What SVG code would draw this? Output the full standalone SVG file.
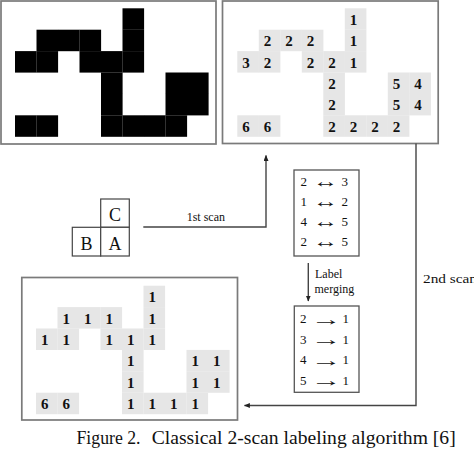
<svg xmlns="http://www.w3.org/2000/svg" xmlns:xlink="http://www.w3.org/1999/xlink" width="474" height="449" viewBox="0 0 474 449">
<style>
.panel{fill:#fff;stroke:#7a7a7a;stroke-width:1.7}
.blk{fill:#000}
.gry{fill:#e6e6e6}
.num{font-family:"Liberation Serif","Times New Roman",serif;font-weight:bold;font-size:15px;fill:#111;text-anchor:middle}
.cell{fill:#fff;stroke:#444;stroke-width:1.2}
.let{font-family:"Liberation Serif","Times New Roman",serif;font-size:18px;fill:#111;text-anchor:middle}
.lbl{font-family:"Liberation Serif","Times New Roman",serif;font-size:12px;fill:#111}
.tbl{fill:#fff;stroke:#555;stroke-width:1.3}
.tt{font-family:"Liberation Serif","Times New Roman",serif;font-size:13px;fill:#111}
.ar{font-family:"Liberation Serif","DejaVu Serif",serif;font-size:17.5px;fill:#111;text-anchor:middle}
.cap{font-family:"Liberation Serif","Times New Roman",serif;font-size:19px;fill:#111}
.con{fill:none;stroke:#444;stroke-width:1.4}
</style>
<defs>
<rect id="c" width="21.6" height="21.5"/>
<marker id="ah" viewBox="0 0 10 10" refX="9" refY="5" markerUnits="userSpaceOnUse" markerWidth="6" markerHeight="5" orient="auto" preserveAspectRatio="none">
<path d="M0,0 L10,5 L0,10 z" fill="#222"/>
</marker>
</defs>

<g id="binary-image">
<rect class="panel" x="1" y="1" width="215" height="143"/>
<g class="blk">
<use xlink:href="#c" x="122.5" y="8.3"/>
<use xlink:href="#c" x="36.5" y="29.7"/><use xlink:href="#c" x="58" y="29.7"/><use xlink:href="#c" x="79.5" y="29.7"/><use xlink:href="#c" x="122.5" y="29.7"/>
<use xlink:href="#c" x="15" y="51.1"/><use xlink:href="#c" x="36.5" y="51.1"/><use xlink:href="#c" x="79.5" y="51.1"/><use xlink:href="#c" x="101" y="51.1"/><use xlink:href="#c" x="122.5" y="51.1"/>
<use xlink:href="#c" x="101" y="72.5"/><use xlink:href="#c" x="165.5" y="72.5"/><use xlink:href="#c" x="187" y="72.5"/>
<use xlink:href="#c" x="101" y="93.9"/><use xlink:href="#c" x="165.5" y="93.9"/><use xlink:href="#c" x="187" y="93.9"/>
<use xlink:href="#c" x="15" y="115.3"/><use xlink:href="#c" x="36.5" y="115.3"/><use xlink:href="#c" x="101" y="115.3"/><use xlink:href="#c" x="122.5" y="115.3"/><use xlink:href="#c" x="144" y="115.3"/><use xlink:href="#c" x="165.5" y="115.3"/>
</g>
</g>

<g id="first-scan-result">
<rect class="panel" x="222.5" y="1" width="215.7" height="142.5"/>
<g class="gry">
<use xlink:href="#c" x="344.8" y="8.3"/>
<use xlink:href="#c" x="258.8" y="29.7"/><use xlink:href="#c" x="280.3" y="29.7"/><use xlink:href="#c" x="301.8" y="29.7"/><use xlink:href="#c" x="344.8" y="29.7"/>
<use xlink:href="#c" x="237.3" y="51.1"/><use xlink:href="#c" x="258.8" y="51.1"/><use xlink:href="#c" x="301.8" y="51.1"/><use xlink:href="#c" x="323.3" y="51.1"/><use xlink:href="#c" x="344.8" y="51.1"/>
<use xlink:href="#c" x="323.3" y="72.5"/><use xlink:href="#c" x="387.8" y="72.5"/><use xlink:href="#c" x="409.3" y="72.5"/>
<use xlink:href="#c" x="323.3" y="93.9"/><use xlink:href="#c" x="387.8" y="93.9"/><use xlink:href="#c" x="409.3" y="93.9"/>
<use xlink:href="#c" x="237.3" y="115.3"/><use xlink:href="#c" x="258.8" y="115.3"/><use xlink:href="#c" x="323.3" y="115.3"/><use xlink:href="#c" x="344.8" y="115.3"/><use xlink:href="#c" x="366.3" y="115.3"/><use xlink:href="#c" x="387.8" y="115.3"/>
</g>
<g class="num">
<text x="353.6" y="24.8">1</text>
<text x="267.6" y="46.2">2</text><text x="289.1" y="46.2">2</text><text x="310.6" y="46.2">2</text><text x="353.6" y="46.2">1</text>
<text x="246.1" y="67.6">3</text><text x="267.6" y="67.6">2</text><text x="310.6" y="67.6">2</text><text x="332.1" y="67.6">2</text><text x="353.6" y="67.6">1</text>
<text x="332.1" y="89">2</text><text x="396.6" y="89">5</text><text x="418.1" y="89">4</text>
<text x="332.1" y="110.4">2</text><text x="396.6" y="110.4">5</text><text x="418.1" y="110.4">4</text>
<text x="246.1" y="131.8">6</text><text x="267.6" y="131.8">6</text><text x="332.1" y="131.8">2</text><text x="353.6" y="131.8">2</text><text x="375.1" y="131.8">2</text><text x="396.6" y="131.8">2</text>
</g>
</g>

<g id="final-result">
<rect class="panel" x="21.8" y="277.5" width="215.7" height="142.5"/>
<g class="gry">
<use xlink:href="#c" x="143.5" y="285.7"/>
<use xlink:href="#c" x="57.5" y="307.1"/><use xlink:href="#c" x="79" y="307.1"/><use xlink:href="#c" x="100.5" y="307.1"/><use xlink:href="#c" x="143.5" y="307.1"/>
<use xlink:href="#c" x="36" y="328.5"/><use xlink:href="#c" x="57.5" y="328.5"/><use xlink:href="#c" x="100.5" y="328.5"/><use xlink:href="#c" x="122" y="328.5"/><use xlink:href="#c" x="143.5" y="328.5"/>
<use xlink:href="#c" x="122" y="349.9"/><use xlink:href="#c" x="186.5" y="349.9"/><use xlink:href="#c" x="208" y="349.9"/>
<use xlink:href="#c" x="122" y="371.3"/><use xlink:href="#c" x="186.5" y="371.3"/><use xlink:href="#c" x="208" y="371.3"/>
<use xlink:href="#c" x="36" y="392.7"/><use xlink:href="#c" x="57.5" y="392.7"/><use xlink:href="#c" x="122" y="392.7"/><use xlink:href="#c" x="143.5" y="392.7"/><use xlink:href="#c" x="165" y="392.7"/><use xlink:href="#c" x="186.5" y="392.7"/>
</g>
<g class="num">
<text x="152.3" y="302.2">1</text>
<text x="66.3" y="323.6">1</text><text x="87.8" y="323.6">1</text><text x="109.3" y="323.6">1</text><text x="152.3" y="323.6">1</text>
<text x="44.8" y="345">1</text><text x="66.3" y="345">1</text><text x="109.3" y="345">1</text><text x="130.8" y="345">1</text><text x="152.3" y="345">1</text>
<text x="130.8" y="366.4">1</text><text x="195.3" y="366.4">1</text><text x="216.8" y="366.4">1</text>
<text x="130.8" y="387.8">1</text><text x="195.3" y="387.8">1</text><text x="216.8" y="387.8">1</text>
<text x="44.8" y="409.2">6</text><text x="66.3" y="409.2">6</text><text x="130.8" y="409.2">1</text><text x="152.3" y="409.2">1</text><text x="173.8" y="409.2">1</text><text x="195.3" y="409.2">1</text>
</g>
</g>

<g id="scan-mask">
<rect class="cell" x="100.7" y="199" width="28.6" height="28.3"/>
<rect class="cell" x="72.3" y="227.3" width="28.4" height="28.7"/>
<rect class="cell" x="100.7" y="227.3" width="28.6" height="28.7"/>
<text class="let" x="115" y="221">C</text>
<text class="let" x="86.5" y="250">B</text>
<text class="let" x="115" y="250">A</text>
</g>

<g id="equivalence-table">
<rect class="tbl" x="294" y="170" width="65" height="86"/>
<g class="tt">
<text x="300.5" y="185.7">2</text><text x="341.5" y="185.7">3</text>
<text x="300.5" y="205.7">1</text><text x="341.5" y="205.7">2</text>
<text x="300.5" y="225.7">4</text><text x="341.5" y="225.7">5</text>
<text x="300.5" y="245.7">2</text><text x="341.5" y="245.7">5</text>
</g>
<g class="ar">
<text transform="translate(325.5,187) scale(1.45,1)">↔</text>
<text transform="translate(325.5,207) scale(1.45,1)">↔</text>
<text transform="translate(325.5,227) scale(1.45,1)">↔</text>
<text transform="translate(325.5,247) scale(1.45,1)">↔</text>
</g>
</g>

<g id="merged-table">
<rect class="tbl" x="294.3" y="306" width="64.7" height="86.3"/>
<g class="tt">
<text x="300" y="323.3">2</text><text x="342.5" y="323.3">1</text>
<text x="300" y="343.8">3</text><text x="342.5" y="343.8">1</text>
<text x="300" y="364.3">4</text><text x="342.5" y="364.3">1</text>
<text x="300" y="384.8">5</text><text x="342.5" y="384.8">1</text>
</g>
<g class="ar">
<text transform="translate(326,324.6) scale(1.75,1)">→</text>
<text transform="translate(326,345.1) scale(1.75,1)">→</text>
<text transform="translate(326,365.6) scale(1.75,1)">→</text>
<text transform="translate(326,386.1) scale(1.75,1)">→</text>
</g>
</g>

<g id="connectors">
<path class="con" d="M143.3,227 H266 V155.5" marker-end="url(#ah)"/>
<path class="con" d="M308.3,263 V301" marker-end="url(#ah)"/>
<path class="con" d="M416,143.5 V405.5 H244.5" marker-end="url(#ah)"/>
<text class="lbl" x="186.7" y="220.7">1st scan</text>
<text class="lbl" x="315" y="278.3">Label</text>
<text class="lbl" x="314.5" y="293.3">merging</text>
<text class="lbl" x="423" y="283.3" textLength="54" lengthAdjust="spacingAndGlyphs" style="font-size:13px">2nd scan</text>
</g>

<g id="caption">
<text class="cap" x="76.5" y="444" textLength="64" lengthAdjust="spacingAndGlyphs">Figure 2.</text>
<text class="cap" x="151.7" y="444" textLength="304" lengthAdjust="spacingAndGlyphs">Classical 2-scan labeling algorithm [6]</text>
</g>
</svg>
